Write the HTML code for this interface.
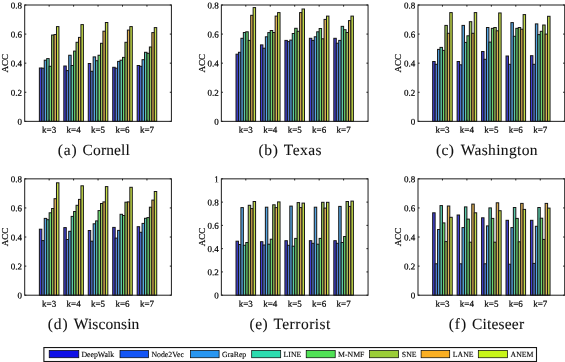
<!DOCTYPE html>
<html><head><meta charset="utf-8"><title>ACC comparison</title>
<style>
html,body{margin:0;padding:0;background:#fff;}
svg{display:block;}
text{font-family:"Liberation Serif","Times New Roman",serif;fill:#111;}
.t{font-size:9.0px;fill:#000;stroke:#000;stroke-width:0.2px;}
.c{font-size:15.5px;fill:#111;stroke:#111;stroke-width:0.1px;}
.l{font-size:7.8px;fill:#000;stroke:#000;stroke-width:0.1px;}
</style></head><body>
<svg width="565" height="362" viewBox="0 0 565 362">
<rect x="0" y="0" width="565" height="362" fill="#fff"/>
<g>
<rect x="39.37" y="68.00" width="2.45" height="53.35" fill="#4040d0" stroke="#161616" stroke-width="1.0"/>
<rect x="41.81" y="68.20" width="2.45" height="53.15" fill="#5177d0" stroke="#161616" stroke-width="1.0"/>
<rect x="44.26" y="60.20" width="2.45" height="61.15" fill="#55a4e1" stroke="#161616" stroke-width="1.0"/>
<rect x="46.70" y="58.60" width="2.45" height="62.75" fill="#5bc9a9" stroke="#161616" stroke-width="1.0"/>
<rect x="49.15" y="66.30" width="2.45" height="55.05" fill="#6ad471" stroke="#161616" stroke-width="1.0"/>
<rect x="51.59" y="35.05" width="2.45" height="86.30" fill="#9dc359" stroke="#161616" stroke-width="1.0"/>
<rect x="54.04" y="34.55" width="2.45" height="86.80" fill="#dfb055" stroke="#161616" stroke-width="1.0"/>
<rect x="56.48" y="26.60" width="2.45" height="94.75" fill="#c5dc48" stroke="#161616" stroke-width="1.0"/>
<rect x="63.82" y="66.00" width="2.45" height="55.35" fill="#4040d0" stroke="#161616" stroke-width="1.0"/>
<rect x="66.26" y="70.60" width="2.45" height="50.75" fill="#5177d0" stroke="#161616" stroke-width="1.0"/>
<rect x="68.71" y="55.25" width="2.45" height="66.10" fill="#55a4e1" stroke="#161616" stroke-width="1.0"/>
<rect x="71.16" y="65.50" width="2.45" height="55.85" fill="#5bc9a9" stroke="#161616" stroke-width="1.0"/>
<rect x="73.60" y="51.10" width="2.45" height="70.25" fill="#6ad471" stroke="#161616" stroke-width="1.0"/>
<rect x="76.04" y="42.30" width="2.45" height="79.05" fill="#9dc359" stroke="#161616" stroke-width="1.0"/>
<rect x="78.49" y="37.40" width="2.45" height="83.95" fill="#dfb055" stroke="#161616" stroke-width="1.0"/>
<rect x="80.94" y="24.60" width="2.45" height="96.75" fill="#c5dc48" stroke="#161616" stroke-width="1.0"/>
<rect x="88.27" y="63.50" width="2.45" height="57.85" fill="#4040d0" stroke="#161616" stroke-width="1.0"/>
<rect x="90.72" y="71.30" width="2.45" height="50.05" fill="#5177d0" stroke="#161616" stroke-width="1.0"/>
<rect x="93.16" y="56.90" width="2.45" height="64.45" fill="#55a4e1" stroke="#161616" stroke-width="1.0"/>
<rect x="95.60" y="60.70" width="2.45" height="60.65" fill="#5bc9a9" stroke="#161616" stroke-width="1.0"/>
<rect x="98.05" y="55.25" width="2.45" height="66.10" fill="#6ad471" stroke="#161616" stroke-width="1.0"/>
<rect x="100.50" y="43.30" width="2.45" height="78.05" fill="#9dc359" stroke="#161616" stroke-width="1.0"/>
<rect x="102.94" y="31.20" width="2.45" height="90.15" fill="#dfb055" stroke="#161616" stroke-width="1.0"/>
<rect x="105.38" y="22.50" width="2.45" height="98.85" fill="#c5dc48" stroke="#161616" stroke-width="1.0"/>
<rect x="112.72" y="67.30" width="2.45" height="54.05" fill="#4040d0" stroke="#161616" stroke-width="1.0"/>
<rect x="115.16" y="68.20" width="2.45" height="53.15" fill="#5177d0" stroke="#161616" stroke-width="1.0"/>
<rect x="117.61" y="61.40" width="2.45" height="59.95" fill="#55a4e1" stroke="#161616" stroke-width="1.0"/>
<rect x="120.06" y="60.20" width="2.45" height="61.15" fill="#5bc9a9" stroke="#161616" stroke-width="1.0"/>
<rect x="122.50" y="57.40" width="2.45" height="63.95" fill="#6ad471" stroke="#161616" stroke-width="1.0"/>
<rect x="124.94" y="42.30" width="2.45" height="79.05" fill="#9dc359" stroke="#161616" stroke-width="1.0"/>
<rect x="127.39" y="30.10" width="2.45" height="91.25" fill="#dfb055" stroke="#161616" stroke-width="1.0"/>
<rect x="129.84" y="26.60" width="2.45" height="94.75" fill="#c5dc48" stroke="#161616" stroke-width="1.0"/>
<rect x="137.17" y="65.50" width="2.45" height="55.85" fill="#4040d0" stroke="#161616" stroke-width="1.0"/>
<rect x="139.61" y="66.30" width="2.45" height="55.05" fill="#5177d0" stroke="#161616" stroke-width="1.0"/>
<rect x="142.06" y="59.70" width="2.45" height="61.65" fill="#55a4e1" stroke="#161616" stroke-width="1.0"/>
<rect x="144.50" y="52.30" width="2.45" height="69.05" fill="#5bc9a9" stroke="#161616" stroke-width="1.0"/>
<rect x="146.95" y="53.30" width="2.45" height="68.05" fill="#6ad471" stroke="#161616" stroke-width="1.0"/>
<rect x="149.39" y="47.00" width="2.45" height="74.35" fill="#9dc359" stroke="#161616" stroke-width="1.0"/>
<rect x="151.84" y="32.60" width="2.45" height="88.75" fill="#dfb055" stroke="#161616" stroke-width="1.0"/>
<rect x="154.28" y="27.60" width="2.45" height="93.75" fill="#c5dc48" stroke="#161616" stroke-width="1.0"/>
<rect x="24.70" y="5.00" width="146.70" height="116.35" fill="none" stroke="#1c1c1c" stroke-width="1.0"/>
<text class="t" transform="translate(22.00 124.75) rotate(0.05)" text-anchor="end">0</text>
<text class="t" transform="translate(22.00 95.66) rotate(0.05)" text-anchor="end">0.2</text>
<text class="t" transform="translate(22.00 66.58) rotate(0.05)" text-anchor="end">0.4</text>
<text class="t" transform="translate(22.00 37.49) rotate(0.05)" text-anchor="end">0.6</text>
<text class="t" transform="translate(22.00 8.40) rotate(0.05)" text-anchor="end">0.8</text>
<path d="M49.15 121.35v-1.60M49.15 5.00v1.60M73.60 121.35v-1.60M73.60 5.00v1.60M98.05 121.35v-1.60M98.05 5.00v1.60M122.50 121.35v-1.60M122.50 5.00v1.60M146.95 121.35v-1.60M146.95 5.00v1.60M24.70 121.35h1.60M171.40 121.35h-1.60M24.70 92.26h1.60M171.40 92.26h-1.60M24.70 63.17h1.60M171.40 63.17h-1.60M24.70 34.09h1.60M171.40 34.09h-1.60M24.70 5.00h1.60M171.40 5.00h-1.60" stroke="#1c1c1c" stroke-width="1.0" fill="none"/>
<text class="t" transform="translate(49.15 132.85) rotate(0.05)" text-anchor="middle">k=3</text>
<text class="t" transform="translate(73.60 132.85) rotate(0.05)" text-anchor="middle">k=4</text>
<text class="t" transform="translate(98.05 132.85) rotate(0.05)" text-anchor="middle">k=5</text>
<text class="t" transform="translate(122.50 132.85) rotate(0.05)" text-anchor="middle">k=6</text>
<text class="t" transform="translate(146.95 132.85) rotate(0.05)" text-anchor="middle">k=7</text>
<text class="t" transform="translate(8.10 63.17) rotate(-90)" text-anchor="middle">ACC</text>
<text class="c" transform="translate(57.70 154.90) rotate(0.05)" textLength="18.90" lengthAdjust="spacing">(a)</text>
<text class="c" transform="translate(82.60 154.90) rotate(0.05)" textLength="47.20" lengthAdjust="spacing">Cornell</text>
</g>
<g>
<rect x="236.02" y="54.20" width="2.45" height="67.15" fill="#4040d0" stroke="#161616" stroke-width="1.0"/>
<rect x="238.46" y="52.30" width="2.45" height="69.05" fill="#5177d0" stroke="#161616" stroke-width="1.0"/>
<rect x="240.91" y="38.30" width="2.45" height="83.05" fill="#55a4e1" stroke="#161616" stroke-width="1.0"/>
<rect x="243.35" y="32.50" width="2.45" height="88.85" fill="#5bc9a9" stroke="#161616" stroke-width="1.0"/>
<rect x="245.80" y="31.80" width="2.45" height="89.55" fill="#6ad471" stroke="#161616" stroke-width="1.0"/>
<rect x="248.24" y="40.40" width="2.45" height="80.95" fill="#9dc359" stroke="#161616" stroke-width="1.0"/>
<rect x="250.69" y="15.30" width="2.45" height="106.05" fill="#dfb055" stroke="#161616" stroke-width="1.0"/>
<rect x="253.13" y="7.60" width="2.45" height="113.75" fill="#c5dc48" stroke="#161616" stroke-width="1.0"/>
<rect x="260.47" y="44.90" width="2.45" height="76.45" fill="#4040d0" stroke="#161616" stroke-width="1.0"/>
<rect x="262.92" y="48.20" width="2.45" height="73.15" fill="#5177d0" stroke="#161616" stroke-width="1.0"/>
<rect x="265.36" y="36.80" width="2.45" height="84.55" fill="#55a4e1" stroke="#161616" stroke-width="1.0"/>
<rect x="267.81" y="32.60" width="2.45" height="88.75" fill="#5bc9a9" stroke="#161616" stroke-width="1.0"/>
<rect x="270.25" y="30.50" width="2.45" height="90.85" fill="#6ad471" stroke="#161616" stroke-width="1.0"/>
<rect x="272.70" y="32.50" width="2.45" height="88.85" fill="#9dc359" stroke="#161616" stroke-width="1.0"/>
<rect x="275.14" y="16.10" width="2.45" height="105.25" fill="#dfb055" stroke="#161616" stroke-width="1.0"/>
<rect x="277.59" y="12.60" width="2.45" height="108.75" fill="#c5dc48" stroke="#161616" stroke-width="1.0"/>
<rect x="284.92" y="40.40" width="2.45" height="80.95" fill="#4040d0" stroke="#161616" stroke-width="1.0"/>
<rect x="287.36" y="41.60" width="2.45" height="79.75" fill="#5177d0" stroke="#161616" stroke-width="1.0"/>
<rect x="289.81" y="40.10" width="2.45" height="81.25" fill="#55a4e1" stroke="#161616" stroke-width="1.0"/>
<rect x="292.25" y="33.50" width="2.45" height="87.85" fill="#5bc9a9" stroke="#161616" stroke-width="1.0"/>
<rect x="294.70" y="28.30" width="2.45" height="93.05" fill="#6ad471" stroke="#161616" stroke-width="1.0"/>
<rect x="297.14" y="31.30" width="2.45" height="90.05" fill="#9dc359" stroke="#161616" stroke-width="1.0"/>
<rect x="299.59" y="12.60" width="2.45" height="108.75" fill="#dfb055" stroke="#161616" stroke-width="1.0"/>
<rect x="302.03" y="9.00" width="2.45" height="112.35" fill="#c5dc48" stroke="#161616" stroke-width="1.0"/>
<rect x="309.37" y="38.30" width="2.45" height="83.05" fill="#4040d0" stroke="#161616" stroke-width="1.0"/>
<rect x="311.81" y="40.40" width="2.45" height="80.95" fill="#5177d0" stroke="#161616" stroke-width="1.0"/>
<rect x="314.26" y="36.80" width="2.45" height="84.55" fill="#55a4e1" stroke="#161616" stroke-width="1.0"/>
<rect x="316.70" y="31.80" width="2.45" height="89.55" fill="#5bc9a9" stroke="#161616" stroke-width="1.0"/>
<rect x="319.15" y="28.50" width="2.45" height="92.85" fill="#6ad471" stroke="#161616" stroke-width="1.0"/>
<rect x="321.60" y="38.80" width="2.45" height="82.55" fill="#9dc359" stroke="#161616" stroke-width="1.0"/>
<rect x="324.04" y="19.40" width="2.45" height="101.95" fill="#dfb055" stroke="#161616" stroke-width="1.0"/>
<rect x="326.49" y="16.10" width="2.45" height="105.25" fill="#c5dc48" stroke="#161616" stroke-width="1.0"/>
<rect x="333.82" y="38.30" width="2.45" height="83.05" fill="#4040d0" stroke="#161616" stroke-width="1.0"/>
<rect x="336.27" y="43.20" width="2.45" height="78.15" fill="#5177d0" stroke="#161616" stroke-width="1.0"/>
<rect x="338.71" y="40.40" width="2.45" height="80.95" fill="#55a4e1" stroke="#161616" stroke-width="1.0"/>
<rect x="341.16" y="26.35" width="2.45" height="95.00" fill="#5bc9a9" stroke="#161616" stroke-width="1.0"/>
<rect x="343.60" y="29.70" width="2.45" height="91.65" fill="#6ad471" stroke="#161616" stroke-width="1.0"/>
<rect x="346.05" y="32.50" width="2.45" height="88.85" fill="#9dc359" stroke="#161616" stroke-width="1.0"/>
<rect x="348.49" y="20.60" width="2.45" height="100.75" fill="#dfb055" stroke="#161616" stroke-width="1.0"/>
<rect x="350.94" y="16.10" width="2.45" height="105.25" fill="#c5dc48" stroke="#161616" stroke-width="1.0"/>
<rect x="221.35" y="5.00" width="146.70" height="116.35" fill="none" stroke="#1c1c1c" stroke-width="1.0"/>
<text class="t" transform="translate(218.65 124.75) rotate(0.05)" text-anchor="end">0</text>
<text class="t" transform="translate(218.65 95.66) rotate(0.05)" text-anchor="end">0.2</text>
<text class="t" transform="translate(218.65 66.58) rotate(0.05)" text-anchor="end">0.4</text>
<text class="t" transform="translate(218.65 37.49) rotate(0.05)" text-anchor="end">0.6</text>
<text class="t" transform="translate(218.65 8.40) rotate(0.05)" text-anchor="end">0.8</text>
<path d="M245.80 121.35v-1.60M245.80 5.00v1.60M270.25 121.35v-1.60M270.25 5.00v1.60M294.70 121.35v-1.60M294.70 5.00v1.60M319.15 121.35v-1.60M319.15 5.00v1.60M343.60 121.35v-1.60M343.60 5.00v1.60M221.35 121.35h1.60M368.05 121.35h-1.60M221.35 92.26h1.60M368.05 92.26h-1.60M221.35 63.17h1.60M368.05 63.17h-1.60M221.35 34.09h1.60M368.05 34.09h-1.60M221.35 5.00h1.60M368.05 5.00h-1.60" stroke="#1c1c1c" stroke-width="1.0" fill="none"/>
<text class="t" transform="translate(245.80 132.85) rotate(0.05)" text-anchor="middle">k=3</text>
<text class="t" transform="translate(270.25 132.85) rotate(0.05)" text-anchor="middle">k=4</text>
<text class="t" transform="translate(294.70 132.85) rotate(0.05)" text-anchor="middle">k=5</text>
<text class="t" transform="translate(319.15 132.85) rotate(0.05)" text-anchor="middle">k=6</text>
<text class="t" transform="translate(343.60 132.85) rotate(0.05)" text-anchor="middle">k=7</text>
<text class="t" transform="translate(204.75 63.17) rotate(-90)" text-anchor="middle">ACC</text>
<text class="c" transform="translate(258.50 154.90) rotate(0.05)" textLength="19.50" lengthAdjust="spacing">(b)</text>
<text class="c" transform="translate(283.80 154.90) rotate(0.05)" textLength="37.80" lengthAdjust="spacing">Texas</text>
</g>
<g>
<rect x="432.67" y="61.50" width="2.45" height="59.85" fill="#4040d0" stroke="#161616" stroke-width="1.0"/>
<rect x="435.11" y="64.30" width="2.45" height="57.05" fill="#5177d0" stroke="#161616" stroke-width="1.0"/>
<rect x="437.56" y="49.40" width="2.45" height="71.95" fill="#55a4e1" stroke="#161616" stroke-width="1.0"/>
<rect x="440.00" y="47.40" width="2.45" height="73.95" fill="#5bc9a9" stroke="#161616" stroke-width="1.0"/>
<rect x="442.45" y="50.40" width="2.45" height="70.95" fill="#6ad471" stroke="#161616" stroke-width="1.0"/>
<rect x="444.89" y="25.40" width="2.45" height="95.95" fill="#9dc359" stroke="#161616" stroke-width="1.0"/>
<rect x="447.34" y="33.30" width="2.45" height="88.05" fill="#dfb055" stroke="#161616" stroke-width="1.0"/>
<rect x="449.78" y="12.60" width="2.45" height="108.75" fill="#c5dc48" stroke="#161616" stroke-width="1.0"/>
<rect x="457.12" y="61.50" width="2.45" height="59.85" fill="#4040d0" stroke="#161616" stroke-width="1.0"/>
<rect x="459.56" y="64.80" width="2.45" height="56.55" fill="#5177d0" stroke="#161616" stroke-width="1.0"/>
<rect x="462.01" y="25.40" width="2.45" height="95.95" fill="#55a4e1" stroke="#161616" stroke-width="1.0"/>
<rect x="464.45" y="42.40" width="2.45" height="78.95" fill="#5bc9a9" stroke="#161616" stroke-width="1.0"/>
<rect x="466.90" y="35.80" width="2.45" height="85.55" fill="#6ad471" stroke="#161616" stroke-width="1.0"/>
<rect x="469.35" y="21.70" width="2.45" height="99.65" fill="#9dc359" stroke="#161616" stroke-width="1.0"/>
<rect x="471.79" y="33.30" width="2.45" height="88.05" fill="#dfb055" stroke="#161616" stroke-width="1.0"/>
<rect x="474.24" y="12.60" width="2.45" height="108.75" fill="#c5dc48" stroke="#161616" stroke-width="1.0"/>
<rect x="481.57" y="51.50" width="2.45" height="69.85" fill="#4040d0" stroke="#161616" stroke-width="1.0"/>
<rect x="484.02" y="59.30" width="2.45" height="62.05" fill="#5177d0" stroke="#161616" stroke-width="1.0"/>
<rect x="486.46" y="27.50" width="2.45" height="93.85" fill="#55a4e1" stroke="#161616" stroke-width="1.0"/>
<rect x="488.91" y="42.10" width="2.45" height="79.25" fill="#5bc9a9" stroke="#161616" stroke-width="1.0"/>
<rect x="491.35" y="28.35" width="2.45" height="93.00" fill="#6ad471" stroke="#161616" stroke-width="1.0"/>
<rect x="493.80" y="27.50" width="2.45" height="93.85" fill="#9dc359" stroke="#161616" stroke-width="1.0"/>
<rect x="496.24" y="30.80" width="2.45" height="90.55" fill="#dfb055" stroke="#161616" stroke-width="1.0"/>
<rect x="498.69" y="12.95" width="2.45" height="108.40" fill="#c5dc48" stroke="#161616" stroke-width="1.0"/>
<rect x="506.02" y="56.00" width="2.45" height="65.35" fill="#4040d0" stroke="#161616" stroke-width="1.0"/>
<rect x="508.46" y="64.30" width="2.45" height="57.05" fill="#5177d0" stroke="#161616" stroke-width="1.0"/>
<rect x="510.91" y="22.60" width="2.45" height="98.75" fill="#55a4e1" stroke="#161616" stroke-width="1.0"/>
<rect x="513.36" y="36.30" width="2.45" height="85.05" fill="#5bc9a9" stroke="#161616" stroke-width="1.0"/>
<rect x="515.80" y="28.35" width="2.45" height="93.00" fill="#6ad471" stroke="#161616" stroke-width="1.0"/>
<rect x="518.25" y="27.50" width="2.45" height="93.85" fill="#9dc359" stroke="#161616" stroke-width="1.0"/>
<rect x="520.69" y="29.20" width="2.45" height="92.15" fill="#dfb055" stroke="#161616" stroke-width="1.0"/>
<rect x="523.13" y="14.60" width="2.45" height="106.75" fill="#c5dc48" stroke="#161616" stroke-width="1.0"/>
<rect x="530.47" y="55.70" width="2.45" height="65.65" fill="#4040d0" stroke="#161616" stroke-width="1.0"/>
<rect x="532.92" y="64.30" width="2.45" height="57.05" fill="#5177d0" stroke="#161616" stroke-width="1.0"/>
<rect x="535.36" y="23.90" width="2.45" height="97.45" fill="#55a4e1" stroke="#161616" stroke-width="1.0"/>
<rect x="537.81" y="34.60" width="2.45" height="86.75" fill="#5bc9a9" stroke="#161616" stroke-width="1.0"/>
<rect x="540.25" y="31.30" width="2.45" height="90.05" fill="#6ad471" stroke="#161616" stroke-width="1.0"/>
<rect x="542.70" y="25.00" width="2.45" height="96.35" fill="#9dc359" stroke="#161616" stroke-width="1.0"/>
<rect x="545.14" y="34.10" width="2.45" height="87.25" fill="#dfb055" stroke="#161616" stroke-width="1.0"/>
<rect x="547.59" y="16.30" width="2.45" height="105.05" fill="#c5dc48" stroke="#161616" stroke-width="1.0"/>
<rect x="418.00" y="5.00" width="146.70" height="116.35" fill="none" stroke="#1c1c1c" stroke-width="1.0"/>
<text class="t" transform="translate(415.30 124.75) rotate(0.05)" text-anchor="end">0</text>
<text class="t" transform="translate(415.30 95.66) rotate(0.05)" text-anchor="end">0.2</text>
<text class="t" transform="translate(415.30 66.58) rotate(0.05)" text-anchor="end">0.4</text>
<text class="t" transform="translate(415.30 37.49) rotate(0.05)" text-anchor="end">0.6</text>
<text class="t" transform="translate(415.30 8.40) rotate(0.05)" text-anchor="end">0.8</text>
<path d="M442.45 121.35v-1.60M442.45 5.00v1.60M466.90 121.35v-1.60M466.90 5.00v1.60M491.35 121.35v-1.60M491.35 5.00v1.60M515.80 121.35v-1.60M515.80 5.00v1.60M540.25 121.35v-1.60M540.25 5.00v1.60M418.00 121.35h1.60M564.70 121.35h-1.60M418.00 92.26h1.60M564.70 92.26h-1.60M418.00 63.17h1.60M564.70 63.17h-1.60M418.00 34.09h1.60M564.70 34.09h-1.60M418.00 5.00h1.60M564.70 5.00h-1.60" stroke="#1c1c1c" stroke-width="1.0" fill="none"/>
<text class="t" transform="translate(442.45 132.85) rotate(0.05)" text-anchor="middle">k=3</text>
<text class="t" transform="translate(466.90 132.85) rotate(0.05)" text-anchor="middle">k=4</text>
<text class="t" transform="translate(491.35 132.85) rotate(0.05)" text-anchor="middle">k=5</text>
<text class="t" transform="translate(515.80 132.85) rotate(0.05)" text-anchor="middle">k=6</text>
<text class="t" transform="translate(540.25 132.85) rotate(0.05)" text-anchor="middle">k=7</text>
<text class="t" transform="translate(401.40 63.17) rotate(-90)" text-anchor="middle">ACC</text>
<text class="c" transform="translate(435.90 154.90) rotate(0.05)" textLength="18.10" lengthAdjust="spacing">(c)</text>
<text class="c" transform="translate(460.70 154.90) rotate(0.05)" textLength="76.80" lengthAdjust="spacing">Washington</text>
</g>
<g>
<rect x="39.37" y="229.20" width="2.45" height="66.00" fill="#4040d0" stroke="#161616" stroke-width="1.0"/>
<rect x="41.81" y="240.60" width="2.45" height="54.60" fill="#5177d0" stroke="#161616" stroke-width="1.0"/>
<rect x="44.26" y="218.40" width="2.45" height="76.80" fill="#55a4e1" stroke="#161616" stroke-width="1.0"/>
<rect x="46.70" y="219.70" width="2.45" height="75.50" fill="#5bc9a9" stroke="#161616" stroke-width="1.0"/>
<rect x="49.15" y="212.80" width="2.45" height="82.40" fill="#6ad471" stroke="#161616" stroke-width="1.0"/>
<rect x="51.59" y="208.50" width="2.45" height="86.70" fill="#9dc359" stroke="#161616" stroke-width="1.0"/>
<rect x="54.04" y="198.70" width="2.45" height="96.50" fill="#dfb055" stroke="#161616" stroke-width="1.0"/>
<rect x="56.48" y="182.80" width="2.45" height="112.40" fill="#c5dc48" stroke="#161616" stroke-width="1.0"/>
<rect x="63.82" y="227.60" width="2.45" height="67.60" fill="#4040d0" stroke="#161616" stroke-width="1.0"/>
<rect x="66.26" y="239.50" width="2.45" height="55.70" fill="#5177d0" stroke="#161616" stroke-width="1.0"/>
<rect x="68.71" y="231.30" width="2.45" height="63.90" fill="#55a4e1" stroke="#161616" stroke-width="1.0"/>
<rect x="71.16" y="216.40" width="2.45" height="78.80" fill="#5bc9a9" stroke="#161616" stroke-width="1.0"/>
<rect x="73.60" y="211.50" width="2.45" height="83.70" fill="#6ad471" stroke="#161616" stroke-width="1.0"/>
<rect x="76.04" y="205.30" width="2.45" height="89.90" fill="#9dc359" stroke="#161616" stroke-width="1.0"/>
<rect x="78.49" y="199.40" width="2.45" height="95.80" fill="#dfb055" stroke="#161616" stroke-width="1.0"/>
<rect x="80.94" y="185.80" width="2.45" height="109.40" fill="#c5dc48" stroke="#161616" stroke-width="1.0"/>
<rect x="88.27" y="230.50" width="2.45" height="64.70" fill="#4040d0" stroke="#161616" stroke-width="1.0"/>
<rect x="90.72" y="241.20" width="2.45" height="54.00" fill="#5177d0" stroke="#161616" stroke-width="1.0"/>
<rect x="93.16" y="223.80" width="2.45" height="71.40" fill="#55a4e1" stroke="#161616" stroke-width="1.0"/>
<rect x="95.60" y="220.90" width="2.45" height="74.30" fill="#5bc9a9" stroke="#161616" stroke-width="1.0"/>
<rect x="98.05" y="210.60" width="2.45" height="84.60" fill="#6ad471" stroke="#161616" stroke-width="1.0"/>
<rect x="100.50" y="203.50" width="2.45" height="91.70" fill="#9dc359" stroke="#161616" stroke-width="1.0"/>
<rect x="102.94" y="201.90" width="2.45" height="93.30" fill="#dfb055" stroke="#161616" stroke-width="1.0"/>
<rect x="105.38" y="186.60" width="2.45" height="108.60" fill="#c5dc48" stroke="#161616" stroke-width="1.0"/>
<rect x="112.72" y="227.40" width="2.45" height="67.80" fill="#4040d0" stroke="#161616" stroke-width="1.0"/>
<rect x="115.16" y="238.10" width="2.45" height="57.10" fill="#5177d0" stroke="#161616" stroke-width="1.0"/>
<rect x="117.61" y="230.40" width="2.45" height="64.80" fill="#55a4e1" stroke="#161616" stroke-width="1.0"/>
<rect x="120.06" y="214.30" width="2.45" height="80.90" fill="#5bc9a9" stroke="#161616" stroke-width="1.0"/>
<rect x="122.50" y="215.50" width="2.45" height="79.70" fill="#6ad471" stroke="#161616" stroke-width="1.0"/>
<rect x="124.94" y="202.20" width="2.45" height="93.00" fill="#9dc359" stroke="#161616" stroke-width="1.0"/>
<rect x="127.39" y="201.90" width="2.45" height="93.30" fill="#dfb055" stroke="#161616" stroke-width="1.0"/>
<rect x="129.84" y="187.30" width="2.45" height="107.90" fill="#c5dc48" stroke="#161616" stroke-width="1.0"/>
<rect x="137.17" y="226.70" width="2.45" height="68.50" fill="#4040d0" stroke="#161616" stroke-width="1.0"/>
<rect x="139.61" y="232.30" width="2.45" height="62.90" fill="#5177d0" stroke="#161616" stroke-width="1.0"/>
<rect x="142.06" y="223.40" width="2.45" height="71.80" fill="#55a4e1" stroke="#161616" stroke-width="1.0"/>
<rect x="144.50" y="218.30" width="2.45" height="76.90" fill="#5bc9a9" stroke="#161616" stroke-width="1.0"/>
<rect x="146.95" y="217.60" width="2.45" height="77.60" fill="#6ad471" stroke="#161616" stroke-width="1.0"/>
<rect x="149.39" y="207.20" width="2.45" height="88.00" fill="#9dc359" stroke="#161616" stroke-width="1.0"/>
<rect x="151.84" y="200.10" width="2.45" height="95.10" fill="#dfb055" stroke="#161616" stroke-width="1.0"/>
<rect x="154.28" y="191.50" width="2.45" height="103.70" fill="#c5dc48" stroke="#161616" stroke-width="1.0"/>
<rect x="24.70" y="178.85" width="146.70" height="116.35" fill="none" stroke="#1c1c1c" stroke-width="1.0"/>
<text class="t" transform="translate(22.00 298.60) rotate(0.05)" text-anchor="end">0</text>
<text class="t" transform="translate(22.00 269.51) rotate(0.05)" text-anchor="end">0.2</text>
<text class="t" transform="translate(22.00 240.42) rotate(0.05)" text-anchor="end">0.4</text>
<text class="t" transform="translate(22.00 211.34) rotate(0.05)" text-anchor="end">0.6</text>
<text class="t" transform="translate(22.00 182.25) rotate(0.05)" text-anchor="end">0.8</text>
<path d="M49.15 295.20v-1.60M49.15 178.85v1.60M73.60 295.20v-1.60M73.60 178.85v1.60M98.05 295.20v-1.60M98.05 178.85v1.60M122.50 295.20v-1.60M122.50 178.85v1.60M146.95 295.20v-1.60M146.95 178.85v1.60M24.70 295.20h1.60M171.40 295.20h-1.60M24.70 266.11h1.60M171.40 266.11h-1.60M24.70 237.02h1.60M171.40 237.02h-1.60M24.70 207.94h1.60M171.40 207.94h-1.60M24.70 178.85h1.60M171.40 178.85h-1.60" stroke="#1c1c1c" stroke-width="1.0" fill="none"/>
<text class="t" transform="translate(49.15 306.70) rotate(0.05)" text-anchor="middle">k=3</text>
<text class="t" transform="translate(73.60 306.70) rotate(0.05)" text-anchor="middle">k=4</text>
<text class="t" transform="translate(98.05 306.70) rotate(0.05)" text-anchor="middle">k=5</text>
<text class="t" transform="translate(122.50 306.70) rotate(0.05)" text-anchor="middle">k=6</text>
<text class="t" transform="translate(146.95 306.70) rotate(0.05)" text-anchor="middle">k=7</text>
<text class="t" transform="translate(8.10 237.02) rotate(-90)" text-anchor="middle">ACC</text>
<text class="c" transform="translate(47.70 328.90) rotate(0.05)" textLength="20.00" lengthAdjust="spacing">(d)</text>
<text class="c" transform="translate(73.80 328.90) rotate(0.05)" textLength="65.50" lengthAdjust="spacing">Wisconsin</text>
</g>
<g>
<rect x="236.02" y="241.20" width="2.45" height="54.00" fill="#4040d0" stroke="#161616" stroke-width="1.0"/>
<rect x="238.46" y="244.50" width="2.45" height="50.70" fill="#5177d0" stroke="#161616" stroke-width="1.0"/>
<rect x="240.91" y="207.60" width="2.45" height="87.60" fill="#55a4e1" stroke="#161616" stroke-width="1.0"/>
<rect x="243.35" y="245.30" width="2.45" height="49.90" fill="#5bc9a9" stroke="#161616" stroke-width="1.0"/>
<rect x="245.80" y="242.50" width="2.45" height="52.70" fill="#6ad471" stroke="#161616" stroke-width="1.0"/>
<rect x="248.24" y="205.30" width="2.45" height="89.90" fill="#9dc359" stroke="#161616" stroke-width="1.0"/>
<rect x="250.69" y="208.60" width="2.45" height="86.60" fill="#dfb055" stroke="#161616" stroke-width="1.0"/>
<rect x="253.13" y="201.50" width="2.45" height="93.70" fill="#c5dc48" stroke="#161616" stroke-width="1.0"/>
<rect x="260.47" y="241.70" width="2.45" height="53.50" fill="#4040d0" stroke="#161616" stroke-width="1.0"/>
<rect x="262.92" y="245.00" width="2.45" height="50.20" fill="#5177d0" stroke="#161616" stroke-width="1.0"/>
<rect x="265.36" y="207.20" width="2.45" height="88.00" fill="#55a4e1" stroke="#161616" stroke-width="1.0"/>
<rect x="267.81" y="244.20" width="2.45" height="51.00" fill="#5bc9a9" stroke="#161616" stroke-width="1.0"/>
<rect x="270.25" y="239.20" width="2.45" height="56.00" fill="#6ad471" stroke="#161616" stroke-width="1.0"/>
<rect x="272.70" y="204.80" width="2.45" height="90.40" fill="#9dc359" stroke="#161616" stroke-width="1.0"/>
<rect x="275.14" y="207.60" width="2.45" height="87.60" fill="#dfb055" stroke="#161616" stroke-width="1.0"/>
<rect x="277.59" y="201.90" width="2.45" height="93.30" fill="#c5dc48" stroke="#161616" stroke-width="1.0"/>
<rect x="284.92" y="240.70" width="2.45" height="54.50" fill="#4040d0" stroke="#161616" stroke-width="1.0"/>
<rect x="287.36" y="245.30" width="2.45" height="49.90" fill="#5177d0" stroke="#161616" stroke-width="1.0"/>
<rect x="289.81" y="206.10" width="2.45" height="89.10" fill="#55a4e1" stroke="#161616" stroke-width="1.0"/>
<rect x="292.25" y="246.20" width="2.45" height="49.00" fill="#5bc9a9" stroke="#161616" stroke-width="1.0"/>
<rect x="294.70" y="238.40" width="2.45" height="56.80" fill="#6ad471" stroke="#161616" stroke-width="1.0"/>
<rect x="297.14" y="202.60" width="2.45" height="92.60" fill="#9dc359" stroke="#161616" stroke-width="1.0"/>
<rect x="299.59" y="207.60" width="2.45" height="87.60" fill="#dfb055" stroke="#161616" stroke-width="1.0"/>
<rect x="302.03" y="203.10" width="2.45" height="92.10" fill="#c5dc48" stroke="#161616" stroke-width="1.0"/>
<rect x="309.37" y="240.70" width="2.45" height="54.50" fill="#4040d0" stroke="#161616" stroke-width="1.0"/>
<rect x="311.81" y="243.30" width="2.45" height="51.90" fill="#5177d0" stroke="#161616" stroke-width="1.0"/>
<rect x="314.26" y="207.20" width="2.45" height="88.00" fill="#55a4e1" stroke="#161616" stroke-width="1.0"/>
<rect x="316.70" y="244.20" width="2.45" height="51.00" fill="#5bc9a9" stroke="#161616" stroke-width="1.0"/>
<rect x="319.15" y="238.40" width="2.45" height="56.80" fill="#6ad471" stroke="#161616" stroke-width="1.0"/>
<rect x="321.60" y="202.30" width="2.45" height="92.90" fill="#9dc359" stroke="#161616" stroke-width="1.0"/>
<rect x="324.04" y="208.10" width="2.45" height="87.10" fill="#dfb055" stroke="#161616" stroke-width="1.0"/>
<rect x="326.49" y="202.30" width="2.45" height="92.90" fill="#c5dc48" stroke="#161616" stroke-width="1.0"/>
<rect x="333.82" y="240.70" width="2.45" height="54.50" fill="#4040d0" stroke="#161616" stroke-width="1.0"/>
<rect x="336.27" y="243.30" width="2.45" height="51.90" fill="#5177d0" stroke="#161616" stroke-width="1.0"/>
<rect x="338.71" y="206.40" width="2.45" height="88.80" fill="#55a4e1" stroke="#161616" stroke-width="1.0"/>
<rect x="341.16" y="242.50" width="2.45" height="52.70" fill="#5bc9a9" stroke="#161616" stroke-width="1.0"/>
<rect x="343.60" y="236.50" width="2.45" height="58.70" fill="#6ad471" stroke="#161616" stroke-width="1.0"/>
<rect x="346.05" y="201.50" width="2.45" height="93.70" fill="#9dc359" stroke="#161616" stroke-width="1.0"/>
<rect x="348.49" y="206.40" width="2.45" height="88.80" fill="#dfb055" stroke="#161616" stroke-width="1.0"/>
<rect x="350.94" y="201.10" width="2.45" height="94.10" fill="#c5dc48" stroke="#161616" stroke-width="1.0"/>
<rect x="221.35" y="178.85" width="146.70" height="116.35" fill="none" stroke="#1c1c1c" stroke-width="1.0"/>
<text class="t" transform="translate(218.65 298.60) rotate(0.05)" text-anchor="end">0</text>
<text class="t" transform="translate(218.65 275.33) rotate(0.05)" text-anchor="end">0.2</text>
<text class="t" transform="translate(218.65 252.06) rotate(0.05)" text-anchor="end">0.4</text>
<text class="t" transform="translate(218.65 228.79) rotate(0.05)" text-anchor="end">0.6</text>
<text class="t" transform="translate(218.65 205.52) rotate(0.05)" text-anchor="end">0.8</text>
<text class="t" transform="translate(218.65 182.25) rotate(0.05)" text-anchor="end">1</text>
<path d="M245.80 295.20v-1.60M245.80 178.85v1.60M270.25 295.20v-1.60M270.25 178.85v1.60M294.70 295.20v-1.60M294.70 178.85v1.60M319.15 295.20v-1.60M319.15 178.85v1.60M343.60 295.20v-1.60M343.60 178.85v1.60M221.35 295.20h1.60M368.05 295.20h-1.60M221.35 271.93h1.60M368.05 271.93h-1.60M221.35 248.66h1.60M368.05 248.66h-1.60M221.35 225.39h1.60M368.05 225.39h-1.60M221.35 202.12h1.60M368.05 202.12h-1.60M221.35 178.85h1.60M368.05 178.85h-1.60" stroke="#1c1c1c" stroke-width="1.0" fill="none"/>
<text class="t" transform="translate(245.80 306.70) rotate(0.05)" text-anchor="middle">k=3</text>
<text class="t" transform="translate(270.25 306.70) rotate(0.05)" text-anchor="middle">k=4</text>
<text class="t" transform="translate(294.70 306.70) rotate(0.05)" text-anchor="middle">k=5</text>
<text class="t" transform="translate(319.15 306.70) rotate(0.05)" text-anchor="middle">k=6</text>
<text class="t" transform="translate(343.60 306.70) rotate(0.05)" text-anchor="middle">k=7</text>
<text class="t" transform="translate(204.75 237.02) rotate(-90)" text-anchor="middle">ACC</text>
<text class="c" transform="translate(249.50 328.90) rotate(0.05)" textLength="18.20" lengthAdjust="spacing">(e)</text>
<text class="c" transform="translate(273.40 328.90) rotate(0.05)" textLength="57.00" lengthAdjust="spacing">Terrorist</text>
</g>
<g>
<rect x="432.67" y="212.80" width="2.45" height="82.40" fill="#4040d0" stroke="#161616" stroke-width="1.0"/>
<rect x="435.11" y="263.80" width="2.45" height="31.40" fill="#5177d0" stroke="#161616" stroke-width="1.0"/>
<rect x="437.56" y="229.50" width="2.45" height="65.70" fill="#55a4e1" stroke="#161616" stroke-width="1.0"/>
<rect x="440.00" y="205.60" width="2.45" height="89.60" fill="#5bc9a9" stroke="#161616" stroke-width="1.0"/>
<rect x="442.45" y="222.90" width="2.45" height="72.30" fill="#6ad471" stroke="#161616" stroke-width="1.0"/>
<rect x="444.89" y="241.60" width="2.45" height="53.60" fill="#9dc359" stroke="#161616" stroke-width="1.0"/>
<rect x="447.34" y="206.00" width="2.45" height="89.20" fill="#dfb055" stroke="#161616" stroke-width="1.0"/>
<rect x="449.78" y="217.30" width="2.45" height="77.90" fill="#c5dc48" stroke="#161616" stroke-width="1.0"/>
<rect x="457.12" y="215.00" width="2.45" height="80.20" fill="#4040d0" stroke="#161616" stroke-width="1.0"/>
<rect x="459.56" y="263.80" width="2.45" height="31.40" fill="#5177d0" stroke="#161616" stroke-width="1.0"/>
<rect x="462.01" y="227.60" width="2.45" height="67.60" fill="#55a4e1" stroke="#161616" stroke-width="1.0"/>
<rect x="464.45" y="206.90" width="2.45" height="88.30" fill="#5bc9a9" stroke="#161616" stroke-width="1.0"/>
<rect x="466.90" y="219.10" width="2.45" height="76.10" fill="#6ad471" stroke="#161616" stroke-width="1.0"/>
<rect x="469.35" y="242.20" width="2.45" height="53.00" fill="#9dc359" stroke="#161616" stroke-width="1.0"/>
<rect x="471.79" y="204.10" width="2.45" height="91.10" fill="#dfb055" stroke="#161616" stroke-width="1.0"/>
<rect x="474.24" y="212.80" width="2.45" height="82.40" fill="#c5dc48" stroke="#161616" stroke-width="1.0"/>
<rect x="481.57" y="217.80" width="2.45" height="77.40" fill="#4040d0" stroke="#161616" stroke-width="1.0"/>
<rect x="484.02" y="263.80" width="2.45" height="31.40" fill="#5177d0" stroke="#161616" stroke-width="1.0"/>
<rect x="486.46" y="225.90" width="2.45" height="69.30" fill="#55a4e1" stroke="#161616" stroke-width="1.0"/>
<rect x="488.91" y="207.90" width="2.45" height="87.30" fill="#5bc9a9" stroke="#161616" stroke-width="1.0"/>
<rect x="491.35" y="218.40" width="2.45" height="76.80" fill="#6ad471" stroke="#161616" stroke-width="1.0"/>
<rect x="493.80" y="242.20" width="2.45" height="53.00" fill="#9dc359" stroke="#161616" stroke-width="1.0"/>
<rect x="496.24" y="202.80" width="2.45" height="92.40" fill="#dfb055" stroke="#161616" stroke-width="1.0"/>
<rect x="498.69" y="210.70" width="2.45" height="84.50" fill="#c5dc48" stroke="#161616" stroke-width="1.0"/>
<rect x="506.02" y="220.30" width="2.45" height="74.90" fill="#4040d0" stroke="#161616" stroke-width="1.0"/>
<rect x="508.46" y="264.20" width="2.45" height="31.00" fill="#5177d0" stroke="#161616" stroke-width="1.0"/>
<rect x="510.91" y="227.60" width="2.45" height="67.60" fill="#55a4e1" stroke="#161616" stroke-width="1.0"/>
<rect x="513.36" y="207.50" width="2.45" height="87.70" fill="#5bc9a9" stroke="#161616" stroke-width="1.0"/>
<rect x="515.80" y="218.40" width="2.45" height="76.80" fill="#6ad471" stroke="#161616" stroke-width="1.0"/>
<rect x="518.25" y="241.80" width="2.45" height="53.40" fill="#9dc359" stroke="#161616" stroke-width="1.0"/>
<rect x="520.69" y="203.40" width="2.45" height="91.80" fill="#dfb055" stroke="#161616" stroke-width="1.0"/>
<rect x="523.13" y="209.40" width="2.45" height="85.80" fill="#c5dc48" stroke="#161616" stroke-width="1.0"/>
<rect x="530.47" y="220.30" width="2.45" height="74.90" fill="#4040d0" stroke="#161616" stroke-width="1.0"/>
<rect x="532.92" y="263.40" width="2.45" height="31.80" fill="#5177d0" stroke="#161616" stroke-width="1.0"/>
<rect x="535.36" y="226.30" width="2.45" height="68.90" fill="#55a4e1" stroke="#161616" stroke-width="1.0"/>
<rect x="537.81" y="207.50" width="2.45" height="87.70" fill="#5bc9a9" stroke="#161616" stroke-width="1.0"/>
<rect x="540.25" y="218.20" width="2.45" height="77.00" fill="#6ad471" stroke="#161616" stroke-width="1.0"/>
<rect x="542.70" y="239.40" width="2.45" height="55.80" fill="#9dc359" stroke="#161616" stroke-width="1.0"/>
<rect x="545.14" y="203.40" width="2.45" height="91.80" fill="#dfb055" stroke="#161616" stroke-width="1.0"/>
<rect x="547.59" y="208.10" width="2.45" height="87.10" fill="#c5dc48" stroke="#161616" stroke-width="1.0"/>
<rect x="418.00" y="178.85" width="146.70" height="116.35" fill="none" stroke="#1c1c1c" stroke-width="1.0"/>
<text class="t" transform="translate(415.30 298.60) rotate(0.05)" text-anchor="end">0</text>
<text class="t" transform="translate(415.30 269.51) rotate(0.05)" text-anchor="end">0.2</text>
<text class="t" transform="translate(415.30 240.42) rotate(0.05)" text-anchor="end">0.4</text>
<text class="t" transform="translate(415.30 211.34) rotate(0.05)" text-anchor="end">0.6</text>
<text class="t" transform="translate(415.30 182.25) rotate(0.05)" text-anchor="end">0.8</text>
<path d="M442.45 295.20v-1.60M442.45 178.85v1.60M466.90 295.20v-1.60M466.90 178.85v1.60M491.35 295.20v-1.60M491.35 178.85v1.60M515.80 295.20v-1.60M515.80 178.85v1.60M540.25 295.20v-1.60M540.25 178.85v1.60M418.00 295.20h1.60M564.70 295.20h-1.60M418.00 266.11h1.60M564.70 266.11h-1.60M418.00 237.02h1.60M564.70 237.02h-1.60M418.00 207.94h1.60M564.70 207.94h-1.60M418.00 178.85h1.60M564.70 178.85h-1.60" stroke="#1c1c1c" stroke-width="1.0" fill="none"/>
<text class="t" transform="translate(442.45 306.70) rotate(0.05)" text-anchor="middle">k=3</text>
<text class="t" transform="translate(466.90 306.70) rotate(0.05)" text-anchor="middle">k=4</text>
<text class="t" transform="translate(491.35 306.70) rotate(0.05)" text-anchor="middle">k=5</text>
<text class="t" transform="translate(515.80 306.70) rotate(0.05)" text-anchor="middle">k=6</text>
<text class="t" transform="translate(540.25 306.70) rotate(0.05)" text-anchor="middle">k=7</text>
<text class="t" transform="translate(401.40 237.02) rotate(-90)" text-anchor="middle">ACC</text>
<text class="c" transform="translate(448.70 328.90) rotate(0.05)" textLength="17.40" lengthAdjust="spacing">(f)</text>
<text class="c" transform="translate(472.00 328.90) rotate(0.05)" textLength="52.10" lengthAdjust="spacing">Citeseer</text>
</g>
<rect x="43.9" y="347.55" width="492.6" height="13.95" fill="#fff" stroke="#161616" stroke-width="1.1"/>
<rect x="49.20" y="350.45" width="29.60" height="7.3" fill="#1010e6" stroke="#000" stroke-width="0.7"/>
<text class="l" transform="translate(81.40 357.0) rotate(0.05)">DeepWalk</text>
<rect x="120.00" y="350.45" width="28.60" height="7.3" fill="#1455f5" stroke="#000" stroke-width="0.7"/>
<text class="l" transform="translate(151.40 357.0) rotate(0.05)">Node2Vec</text>
<rect x="190.50" y="350.45" width="28.60" height="7.3" fill="#2896f0" stroke="#000" stroke-width="0.7"/>
<text class="l" transform="translate(222.00 357.0) rotate(0.05)">GraRep</text>
<rect x="251.70" y="350.45" width="29.00" height="7.3" fill="#2ddcaf" stroke="#000" stroke-width="0.7"/>
<text class="l" transform="translate(283.60 357.0) rotate(0.05)">LINE</text>
<rect x="306.20" y="350.45" width="29.00" height="7.3" fill="#50e155" stroke="#000" stroke-width="0.7"/>
<text class="l" transform="translate(338.00 357.0) rotate(0.05)">M-NMF</text>
<rect x="369.60" y="350.45" width="29.00" height="7.3" fill="#9bcd37" stroke="#000" stroke-width="0.7"/>
<text class="l" transform="translate(401.80 357.0) rotate(0.05)">SNE</text>
<rect x="421.10" y="350.45" width="28.60" height="7.3" fill="#faaf23" stroke="#000" stroke-width="0.7"/>
<text class="l" transform="translate(452.80 357.0) rotate(0.05)">LANE</text>
<rect x="478.30" y="350.45" width="29.20" height="7.3" fill="#c8f519" stroke="#000" stroke-width="0.7"/>
<text class="l" transform="translate(510.50 357.0) rotate(0.05)">ANEM</text>
</svg>
</body></html>
